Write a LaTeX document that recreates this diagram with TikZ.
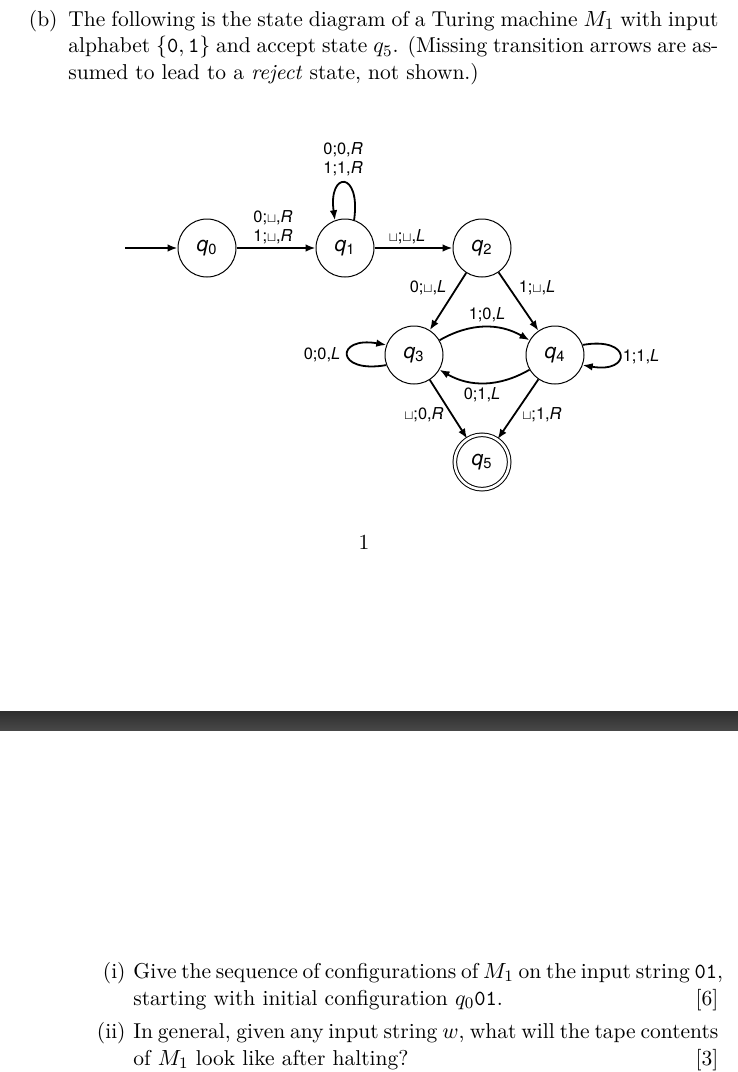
\documentclass[tikz,border=0pt]{standalone}
\usepackage{fontspec}
\newfontfamily\diagfont{TeX Gyre Heros}
\usetikzlibrary{arrows.meta}
\def\blank{\scalebox{0.8}{$\sqcup$}}
\def\tmq#1{{\itshape q}\textsubscript{\upshape#1}}
\def\mv#1{\textit{#1}}
\def\fullline#1{\hbox to 292.5pt{#1}}

\begin{document}
\begin{tikzpicture}[x=0.5pt,y=0.5pt,
		every node/.style={font=\fontsize{10.75}{13.3}\selectfont},
		tmstate/.style={draw, circle, minimum size=29pt, inner sep=0pt, line width=0.5pt, font=\diagfont\fontsize{10.5}{12}\selectfont},
		tmaccept/.style={tmstate, minimum size=27.2pt, double, double distance=1.3pt},
		trans/.style={-{Latex[length=5pt,width=3.8pt]}, line width=0.9pt},
		tlabel/.style={font=\diagfont\fontsize{8.2}{9.5}\selectfont, align=center, inner sep=0pt},
		txt/.style={inner sep=0pt, align=justify}]
			\useasboundingbox (0,0) rectangle (738,-1072);
			%%%%% QUESTION TEXT %%%%%
			\node[txt, anchor=base east] (blabel) at (58,-26) {(b)};
			\node[txt, anchor=north west, text width=325pt] (intro) at (68,-10.7) {The following is the state diagram of a Turing machine $M_1$ with input\linebreak alphabet $\{\texttt{0},\texttt{1}\}$ and accept state $q_5$. (Missing transition arrows are as-\linebreak sumed to lead to a \emph{reject} state, not shown.)};
			
			%%%%% STATES %%%%%
			\node[tmstate] (q0) at (207,-248) {\tmq0};
			\node[tmstate] (q1) at (345,-248) {\tmq1};
			\node[tmstate] (q2) at (482,-248) {\tmq2};
			\node[tmstate] (q3) at (414,-355) {\tmq3};
			\node[tmstate] (q4) at (555,-355) {\tmq4};
			\node[tmaccept] (q5) at (482,-462) {\tmq5};
			\coordinate (start) at (125,-248);
			
			%%%%% TRANSITIONS %%%%%
			\draw[trans] (start) -- (q0);
			\draw[trans] (q0) -- (q1);
			\draw[trans] (q1) -- (q2);
			\draw[trans] (q1.72) .. controls +(82:25pt) and +(98:25pt) .. (q1.110);
			\draw[trans] (q2) -- (q3);
			\draw[trans] (q2) -- (q4);
			\draw[trans] (q3.30) to[out=30,in=150] (q4.150);
			\draw[trans] (q4.210) to[out=210,in=-30] (q3.-30);
			\draw[trans] (q3.200) .. controls +(190:26pt) and +(170:26pt) .. (q3.160);
			\draw[trans] (q4.20) .. controls +(10:25pt) and +(-10:25pt) .. (q4.-20);
			\draw[trans] (q3) -- (q5);
			\draw[trans] (q4) -- (q5);
			
			\node[tlabel] (loop1) at (343,-159) {0;0,\mv{R}\\1;1,\mv{R}};
			\node[tlabel] (t01) at (273,-227.5) {0;\blank,\mv{R}\\1;\blank,\mv{R}};
			\node[tlabel] (t12) at (407,-237) {\blank;\blank,\mv{L}};
			\node[tlabel] (t23) at (428,-288) {0;\blank,\mv{L}};
			\node[tlabel] (t24) at (537,-288) {1;\blank,\mv{L}};
			\node[tlabel] (t34) at (487,-315) {1;0,\mv{L}};
			\node[tlabel] (t43) at (482,-395) {0;1,\mv{L}};
			\node[tlabel] (loop3) at (322,-355) {0;0,\mv{L}};
			\node[tlabel] (loop4) at (641,-357) {1;1,\mv{L}};
			\node[tlabel] (t35) at (424,-415) {\blank;0,\mv{R}};
			\node[tlabel] (t45) at (542,-415) {\blank;1,\mv{R}};
			
			%%%%% PAGE BREAK %%%%%
			\node (pagenum) at (364,-542) {1};
			\shade[top color=black!82, middle color=black!66, bottom color=black!72] (0,-711) rectangle (738,-730);
			
			\node[txt, anchor=base east] (ilabel) at (126,-978.5) {(i)};
			\node[txt, anchor=base west, align=left] (qi) at (133,-1005) {\fullline{Give the sequence of configurations of $M_1$ on the input string \texttt{01},}\\\fullline{starting with initial configuration $q_0$\texttt{01}.\hfill[6]}};
			\node[txt, anchor=base east] (iilabel) at (126,-1038.5) {(ii)};
			\node[txt, anchor=base west, align=left] (qii) at (133,-1065) {\fullline{In general, given any input string $w$, what will the tape contents}\\\fullline{of $M_1$ look like after halting?\hfill[3]}};
		\end{tikzpicture}
\end{document}
